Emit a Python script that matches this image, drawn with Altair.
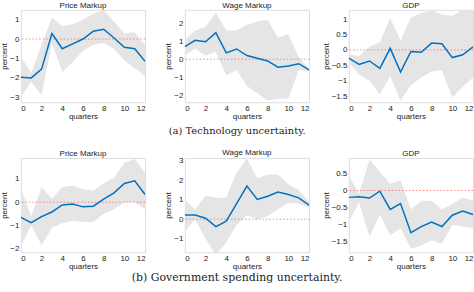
import altair as alt
import pandas as pd

quarters = list(range(13))

# (a) Technology uncertainty
a_price = [-1.97, -2.0, -1.55, 0.28, -0.5, -0.25, 0.0, 0.4, 0.5, 0.05, -0.42, -0.5, -1.15]
a_price_hi = [-0.9, -1.75, -0.3, 1.1, 0.65, 0.75, 1.0, 1.3, 1.5, 0.9, 0.3, 0.35, -0.3]
a_price_lo = [-3.0, -2.2, -2.9, -0.2, -1.7, -1.2, -0.6, -0.3, -0.2, -0.5, -1.1, -1.5, -1.9]

a_wage = [0.7, 1.05, 0.97, 1.48, 0.35, 0.57, 0.2, 0.05, -0.1, -0.45, -0.38, -0.25, -0.6]
a_wage_hi = [1.1, 1.6, 1.8, 2.6, 1.6, 1.6, 1.9, 2.1, 2.2, 1.2, 1.4, 0.1, -0.5]
a_wage_lo = [0.2, 0.6, 0.2, 0.4, -0.9, -0.6, -1.5, -1.9, -2.3, -2.2, -2.2, -0.6, -0.7]

a_gdp = [-0.27, -0.47, -0.36, -0.6, 0.05, -0.72, -0.05, -0.08, 0.22, 0.2, -0.25, -0.16, 0.1]
a_gdp_hi = [-0.15, -0.2, 0.1, 0.25, 1.05, 0.3, 1.05, 1.2, 1.3, 1.15, 1.1, 1.3, 1.3]
a_gdp_lo = [-0.4, -0.8, -1.0, -1.45, -0.85, -1.65, -1.15, -0.9, -0.7, -0.65, -1.55, -1.2, -0.9]

# (b) Government spending uncertainty
b_price = [-0.65, -0.88, -0.62, -0.42, -0.12, -0.08, -0.2, -0.17, 0.13, 0.4, 0.8, 0.92, 0.33]
b_price_hi = [0.6, -0.6, 0.65, 0.15, 0.65, 0.7, 0.55, 0.5, 0.8, 1.05, 1.7, 1.85, 1.25]
b_price_lo = [-1.9, -1.0, -1.85, -1.1, -0.9, -0.8, -0.85, -0.85, -0.5, -0.3, 0.0, 0.0, -0.3]

b_wage = [0.22, 0.22, 0.05, -0.38, -0.1, 0.8, 1.7, 1.02, 1.18, 1.4, 1.27, 1.1, 0.72]
b_wage_hi = [1.0, 0.5, 1.2, 1.1, 1.1, 2.4, 3.1, 2.1, 2.3, 2.3, 1.8, 1.5, 0.9]
b_wage_lo = [-0.65, 0.0, -1.0, -1.85, -1.2, -0.3, 0.2, 0.0, 0.15, 0.5, 0.85, 0.8, 0.6]

b_gdp = [-0.2, -0.18, -0.22, -0.02, -0.55, -0.38, -1.23, -1.05, -0.92, -1.05, -0.72, -0.6, -0.7]
b_gdp_hi = [0.45, -0.1, 0.9, 0.55, 0.2, 0.3, -0.55, -0.3, -0.3, -0.55, -0.4, -0.2, -0.3]
b_gdp_lo = [-0.9, -0.35, -1.35, -0.7, -1.3, -1.1, -1.7, -1.6, -1.45, -1.55, -1.0, -1.05, -1.1]

x_ticks = [0, 2, 4, 6, 8, 10, 12]

SANS = "Liberation Sans"
SERIF = "DejaVu Serif"
W = 125


def panel(title, mid, hi, lo, domain, yticks, h):
    df = pd.DataFrame({"q": quarters, "mid": mid, "hi": hi, "lo": lo})
    xaxis = alt.Axis(values=x_ticks, title="quarters", grid=False,
                     ticks=False, labelPadding=2, labelFontSize=8,
                     titleFontSize=8, titleFontWeight="normal",
                     titlePadding=0, labelFont=SANS, titleFont=SANS,
                     domain=False, labelOverlap=False, format="~g",
                     labelColor="#222222", titleColor="#222222")
    xscale = alt.Scale(domain=[0, 12], nice=False)
    yscale = alt.Scale(domain=domain, nice=False, zero=False)
    yaxis = alt.Axis(values=yticks, title="percent", grid=False, ticks=False,
                     labelPadding=2, labelFontSize=8, titleFontSize=8,
                     titleFontWeight="normal", titlePadding=1,
                     labelFont=SANS, titleFont=SANS, domain=False,
                     labelOverlap=False, format="~g",
                     labelColor="#222222", titleColor="#222222")
    band = alt.Chart(df).mark_area(color="#e5e5e5", opacity=1, clip=True).encode(
        x=alt.X("q:Q", scale=xscale, axis=xaxis),
        y=alt.Y("lo:Q", scale=yscale, axis=yaxis), y2="hi:Q")
    zero = alt.Chart(pd.DataFrame({"z": [0]})).mark_rule(
        color="#ff6666", strokeDash=[1.5, 2], strokeWidth=0.8).encode(
        y=alt.Y("z:Q", scale=yscale, axis=yaxis))
    line = alt.Chart(df).mark_line(color="#0072BD", strokeWidth=1.5, clip=True).encode(
        x=alt.X("q:Q", scale=xscale, axis=xaxis),
        y=alt.Y("mid:Q", scale=yscale, axis=yaxis))
    return alt.layer(band, zero, line).properties(
        width=W, height=h,
        title=alt.TitleParams(title, fontSize=8, font=SANS, fontWeight="normal",
                              offset=0, anchor="middle", color="#222222"))


row_a = alt.hconcat(
    panel("Price Markup", a_price, a_price_hi, a_price_lo, [-3.25, 1.5], [-3, -2, -1, 0, 1], 93),
    panel("Wage Markup", a_wage, a_wage_hi, a_wage_lo, [-2.4, 2.75], [-2, -1, 0, 1, 2], 93),
    panel("GDP", a_gdp, a_gdp_hi, a_gdp_lo, [-1.7, 1.3], [-1.5, -1, -0.5, 0, 0.5, 1], 93),
    bounds="flush", spacing=40,
    title=alt.TitleParams("(a) Technology uncertainty.", orient="bottom",
                          anchor="middle", font=SERIF, fontSize=10,
                          fontWeight="normal", offset=5, color="#222222"),
)

row_b = alt.hconcat(
    panel("Price Markup", b_price, b_price_hi, b_price_lo, [-2.15, 1.9], [-2, -1, 0, 1], 95),
    panel("Wage Markup", b_wage, b_wage_hi, b_wage_lo, [-1.7, 3.15], [-1, 0, 1, 2, 3], 95),
    panel("GDP", b_gdp, b_gdp_hi, b_gdp_lo, [-1.8, 0.95], [-1.5, -1, -0.5, 0, 0.5], 95),
    bounds="flush", spacing=40,
    title=alt.TitleParams("(b) Government spending uncertainty.", orient="bottom",
                          anchor="middle", font=SERIF, fontSize=11,
                          fontWeight="normal", offset=1, color="#222222"),
)

chart = alt.vconcat(row_a, row_b, spacing=12).properties(
    padding={"left": 0, "top": 0, "right": 0, "bottom": 0}
).configure_view(stroke="#444444", strokeWidth=0.8).configure(background="white")

chart.save("out.html", embed_options={"renderer": "svg", "actions": False})
